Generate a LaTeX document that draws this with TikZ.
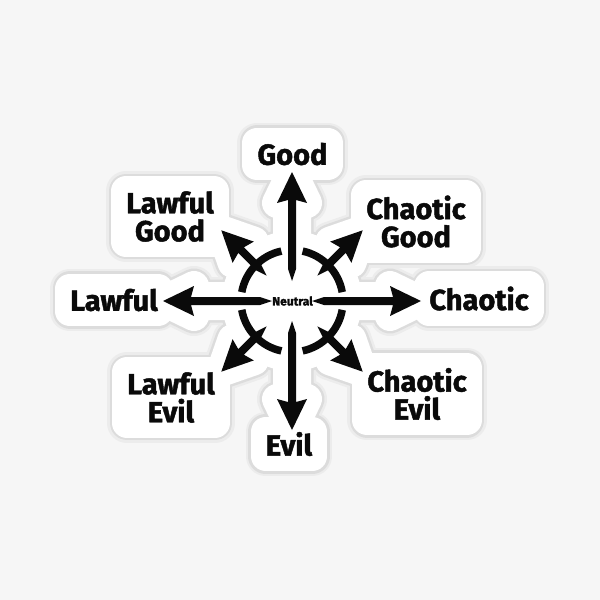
\documentclass[tikz,border=0pt]{standalone}
\usepackage{fontspec}
\setmainfont{Fira Sans}[BoldFeatures={FakeBold=1.6}]
\definecolor{bgc}{RGB}{246,246,246}
\definecolor{sha}{RGB}{236,236,236}
\definecolor{shb}{RGB}{220,220,220}
\definecolor{ink}{RGB}{10,10,10}
\pgfdeclarelayer{bg}
\pgfsetlayers{bg,main}
\newcommand\spear[4]{\begin{scope}[shift={(c)},rotate=#1]
  \path[#4] (#2,0) -- (#2+12,4) -- (#3-28,4) -- (#3-31,15) -- (#3,0)
     -- (#3-31,-15) -- (#3-28,-4) -- (#2+12,-4) -- cycle;
  \end{scope}}
\newcommand\allspears[1]{%
  \spear{90}{20}{129}{#1}\spear{270}{20}{129}{#1}%
  \spear{0}{20}{129}{#1}\spear{180}{20}{129}{#1}%
  \spear{45}{36}{100}{#1}\spear{135}{36}{100}{#1}%
  \spear{225}{36}{100}{#1}\spear{315}{36}{100}{#1}}
\newcommand\silpass[2]{%
  \foreach \n in {good,lgood,cgood,lawful,chaotic,levil,cevil,evil}{%
    \filldraw[draw=#1, fill=#1, line width=#2, line join=round]
      (\n.north west) rectangle (\n.south east);}
  \filldraw[draw=#1, fill=#1, line width=#2] (c) circle[radius=55];
  \allspears{draw=#1, fill=#1, line width=#2, line join=round}}
\tikzset{
  lbl/.style={font=\fontsize{29}{28}\selectfont\bfseries, text=ink,
    align=center, inner sep=0pt},
  ring/.style={draw=ink, line width=7.5pt}
}
\begin{document}
\begin{tikzpicture}[x=1pt,y=-1pt]
\useasboundingbox (0,0) rectangle (600,600);
\coordinate (c) at (292,301);
% labels
\node[lbl] (good)    at (292.5,154)   {Good};
\node[lbl] (lgood)   at (170,216.5)   {Lawful\\Good};
\node[lbl] (cgood)   at (416,221.5)   {Chaotic\\Good};
\node[lbl] (lawful)  at (114,300)     {Lawful};
\node[lbl] (chaotic) at (479,298.5)   {Chaotic};
\node[lbl] (levil)   at (171,397.5)   {Lawful\\Evil};
\node[lbl] (cevil)   at (417,394)     {Chaotic\\Evil};
\node[lbl] (evil)    at (289,444)     {Evil};
\node[font=\fontsize{12}{12}\selectfont\bfseries, text=ink, inner sep=0pt]
  (neutral) at (292.5,301) {Neutral};
% symbol
\allspears{fill=ink}
\draw[ring] (c) ++(10:51) arc[start angle=10, end angle=78, radius=51];
\draw[ring] (c) ++(102:51) arc[start angle=102, end angle=170, radius=51];
\draw[ring] (c) ++(190:51) arc[start angle=190, end angle=258, radius=51];
\draw[ring] (c) ++(282:51) arc[start angle=282, end angle=350, radius=51];
% sticker
\begin{pgfonlayer}{bg}
  \fill[bgc] (0,0) rectangle (600,600);
  \silpass{sha}{40pt}
  \silpass{shb}{35pt}
  \silpass{white}{30pt}
\end{pgfonlayer}
\end{tikzpicture}
\end{document}
